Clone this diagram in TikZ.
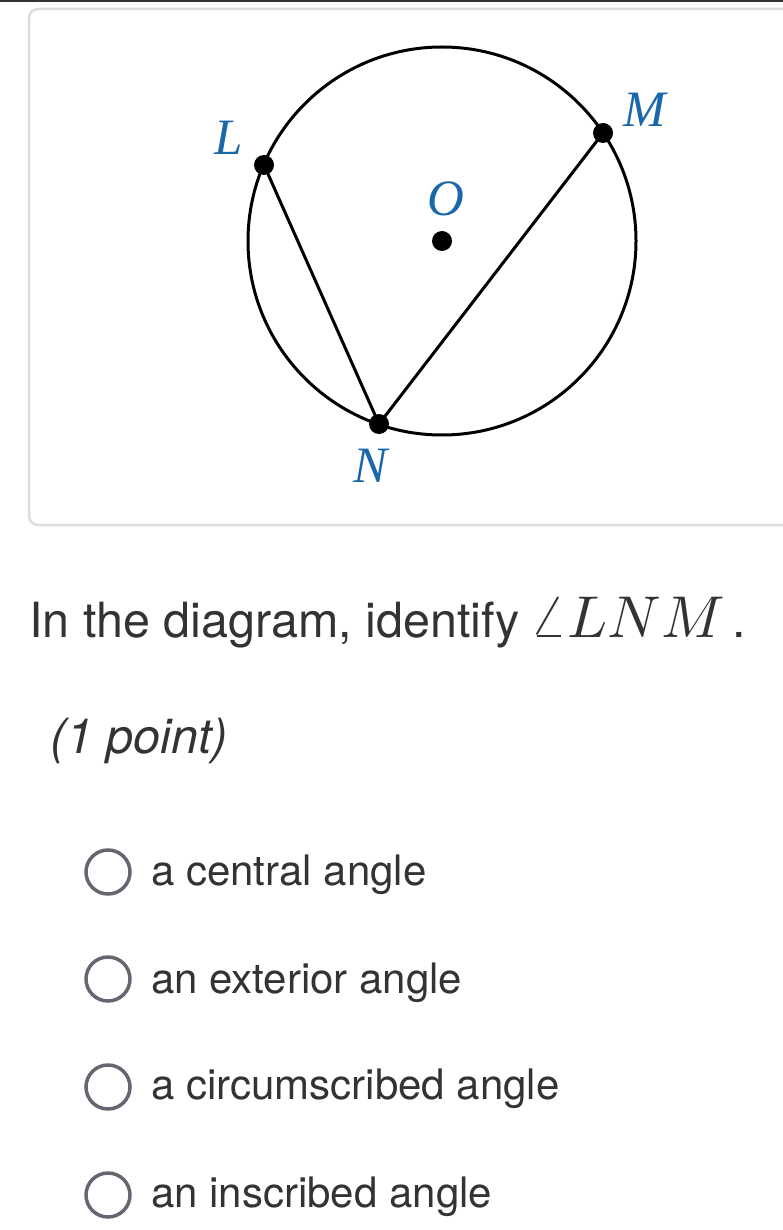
\documentclass[tikz,border=0pt]{standalone}
\usepackage{graphicx}
\usepackage{fontspec}
\setmainfont{TeX Gyre Heros}
\newfontfamily\labelfont{Liberation Serif}
\definecolor{txt}{HTML}{333333}
\definecolor{lbl}{HTML}{1A67AB}
\definecolor{boxc}{HTML}{DDDDDD}
\definecolor{radio}{HTML}{666670}
\begin{document}
\begin{tikzpicture}[x=1pt,y=-1pt,
  ptlabel/.style={inner sep=0pt,anchor=base,text=lbl,font=\labelfont\itshape\fontsize{51}{60}\selectfont},
  dotpt/.style={circle,fill=black,inner sep=0pt,minimum size=20pt},
  geo/.style={line width=3pt,black},
  qtext/.style={inner sep=0pt,anchor=base west,text=txt,font=\fontsize{48.5}{56}\selectfont},
  opttext/.style={inner sep=0pt,anchor=base west,text=txt,font=\fontsize{42}{50}\selectfont},
  radiobtn/.style={circle,draw=radio,line width=3.5pt,minimum size=44pt,inner sep=0pt}]
\useasboundingbox (0,0) rectangle (783,1230);
% top rule and figure box
\draw[line width=1.6pt,txt] (0,0.8) -- (783,0.8);
\draw[line width=2.5pt,boxc,rounded corners=9pt] (810,9) -- (29,9) -- (29,525) -- (810,525);
% geometry
\coordinate (O) at (442,241);
\coordinate (L) at (264,165);
\coordinate (M) at (603,133);
\coordinate (N) at (379,424);
\draw[geo] (O) circle[radius=194];
\draw[geo] (L) -- (N) -- (M);
\node[dotpt] (dO) at (O) {};
\node[dotpt] (dL) at (L) {};
\node[dotpt] (dM) at (M) {};
\node[dotpt] (dN) at (N) {};
\node[ptlabel] (lL) at (229,155) {L};
\node[ptlabel] (lM) at (645,127) {M};
\node[ptlabel] (lN) at (371,482) {N};
\node[ptlabel] (lO) at (446,216) {O};
% question
\node[qtext] (q) at (29,637) {In the diagram, identify\kern-3pt\ {\normalsize\scalebox{5.9}{$\angle LNM$}}\kern 7pt.};
\node[qtext,font=\itshape\fontsize{48.5}{56}\selectfont] (pt) at (50,753) {(1 point)};
% options
\node[radiobtn] (r1) at (108,872) {};
\node[radiobtn] (r2) at (108,979) {};
\node[radiobtn] (r3) at (108,1087) {};
\node[radiobtn] (r4) at (108,1195) {};
\node[opttext] (o1) at (151,885) {a central angle};
\node[opttext] (o2) at (151,993) {an exterior angle};
\node[opttext] (o3) at (151,1099) {a circumscribed angle};
\node[opttext] (o4) at (151,1207) {an inscribed angle};
\end{tikzpicture}
\end{document}
